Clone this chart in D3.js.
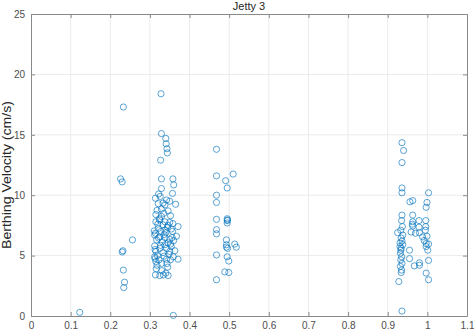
<!DOCTYPE html>
<html>
<head>
<meta charset="utf-8">
<script src="https://cdn.jsdelivr.net/npm/d3@7"></script>
<style>
  html, body { margin: 0; padding: 0; background: #fff; }
  svg { display: block; font-family: "Liberation Sans", Arial, sans-serif; }
</style>
</head>
<body>
<svg id="chart" width="474" height="332"></svg>
<script>
// Berthing velocity observations at Jetty 3
const chartTitle = "Jetty 3";
const yLabel = "Berthing Velocity (cm/s)";
const xTicks = [0, 0.1, 0.2, 0.3, 0.4, 0.5, 0.6, 0.7, 0.8, 0.9, 1, 1.1];
const xTickLabels = ["0", "0.1", "0.2", "0.3", "0.4", "0.5", "0.6", "0.7", "0.8", "0.9", "1", "1.1"];
const yTicks = [0, 5, 10, 15, 20, 25];

// x position of each observation
const obsX = [
  0.123, 0.359, 0.936,
  // around 0.23
  0.233, 0.226, 0.230, 0.256, 0.232, 0.230, 0.233, 0.236, 0.234,
  // around 0.33
  0.328, 0.329, 0.340, 0.341, 0.343, 0.344, 0.327,
  0.329, 0.358, 0.360, 0.329, 0.357, 0.322,
  0.314, 0.326, 0.342, 0.350, 0.321, 0.338, 0.365, 0.333,
  0.329, 0.346, 0.318, 0.335, 0.315, 0.329, 0.352, 0.324,
  0.325, 0.338, 0.350, 0.358, 0.315, 0.333, 0.346, 0.371, 0.321, 0.338, 0.354, 0.328, 0.344,
  0.312, 0.325, 0.338, 0.356, 0.367, 0.317, 0.331, 0.346, 0.360, 0.314, 0.322, 0.340, 0.350,
  0.312, 0.325, 0.342, 0.354, 0.315, 0.333, 0.350, 0.363, 0.313, 0.319, 0.338, 0.348,
  0.312, 0.323, 0.342, 0.352, 0.371, 0.315, 0.329, 0.343, 0.313, 0.336, 0.359,
  0.316, 0.330, 0.314, 0.325, 0.334, 0.346, 0.340,
  0.320, 0.336, 0.352, 0.318, 0.345, 0.327, 0.311, 0.357,
  // around 0.49
  0.468, 0.468, 0.510, 0.491, 0.495, 0.468, 0.468, 0.468,
  0.495, 0.495, 0.495, 0.496, 0.468, 0.468, 0.493,
  0.493, 0.493, 0.496, 0.514, 0.518, 0.468, 0.495, 0.499,
  0.489, 0.499, 0.468,
  // around 0.97
  0.936, 0.940, 0.936, 0.936, 0.936, 1.003, 0.956, 0.963, 0.999, 0.997,
  0.936, 0.963, 0.935, 0.963, 0.979, 0.996, 0.937, 0.963, 0.979, 0.996,
  0.925, 0.938, 0.934, 0.931, 0.959, 0.970, 0.980, 0.988,
  0.992, 0.997, 1.003, 0.997, 1.001,
  0.931, 0.933, 0.932, 0.935, 0.933, 0.936, 0.932, 0.935, 0.934,
  0.955, 0.955, 0.967, 0.980, 0.980, 1.003, 0.997, 1.003, 0.928,
  0.933, 0.938, 0.995, 0.999, 0.962, 0.934, 0.936
];

// measured berthing velocity (cm/s), same order as obsX
const obsV = [
  0.3, 0.05, 0.41,
  17.3, 11.35, 11.1, 6.3, 5.4, 5.3, 3.8, 2.8, 2.35,
  18.4, 15.1, 14.7, 14.25, 13.85, 13.5, 12.9,
  11.35, 11.35, 10.85, 10.55, 10.15, 10.1,
  9.75, 9.9, 9.6, 9.5, 9.3, 9.2, 9.25, 9.35,
  8.85, 8.7, 8.75, 8.5, 8.4, 8.25, 8.3, 8.05,
  7.95, 7.8, 7.75, 7.65, 7.8, 7.55, 7.5, 7.4, 7.25, 7.1, 7.2, 7.0, 7.35,
  6.7, 6.55, 6.5, 6.5, 6.6, 6.3, 6.15, 6.05, 6.25, 6.85, 6.45, 6.9, 6.35,
  5.8, 5.6, 5.6, 5.75, 5.35, 5.25, 5.35, 5.4, 5.5, 5.0, 5.9, 5.1,
  4.9, 4.65, 4.7, 4.65, 4.7, 4.5, 4.35, 4.35, 4.75, 4.95, 4.9,
  3.9, 3.75, 3.4, 3.35, 3.4, 3.35, 3.55,
  7.6, 6.75, 5.95, 4.2, 4.05, 5.85, 7.05, 7.0,
  13.8, 11.6, 11.75, 11.2, 10.6, 10.0, 9.4, 8.0,
  8.05, 7.9, 7.7, 7.95, 7.15, 6.8, 6.3,
  5.9, 5.7, 5.6, 5.95, 5.7, 5.05, 4.9, 4.55,
  3.65, 3.6, 3.0,
  14.35, 13.7, 12.7, 10.6, 10.2, 10.2, 9.45, 9.55, 9.4, 9.0,
  8.35, 8.35, 7.9, 7.8, 7.9, 7.9, 7.4, 7.45, 7.35, 7.4,
  6.9, 6.7, 6.45, 6.05, 6.95, 6.85, 6.9, 6.55,
  6.25, 6.0, 5.95, 5.75, 5.45,
  5.75, 5.45, 5.2, 4.9, 4.65, 4.35, 4.1, 3.8, 3.6,
  5.45, 4.75, 4.15, 4.4, 4.2, 4.6, 3.55, 3.0, 2.85,
  7.1, 5.9, 7.1, 6.6, 7.6, 5.6, 6.2
];

const points = obsX.map((x, i) => ({ x, v: obsV[i] }));

const svg = d3.select("#chart");
const margin = { left: 31, right: 7, top: 14, bottom: 16 };
const W = 474, H = 332;

const x = d3.scaleLinear().domain([0, 1.1]).range([margin.left, W - margin.right]);
const y = d3.scaleLinear().domain([0, 25]).range([H - margin.bottom, margin.top]);

const axisColor = "#8a8a8a";
const textColor = "#4d4d4d";

// grid
const grid = svg.append("g");
grid.selectAll("line.gx").data(xTicks.slice(1, -1)).join("line")
  .attr("x1", d => x(d)).attr("x2", d => x(d))
  .attr("y1", y(0)).attr("y2", y(25))
  .attr("stroke", "#ebebeb").attr("stroke-width", 1);
grid.selectAll("line.gy").data(yTicks.slice(1, -1)).join("line")
  .attr("x1", x(0)).attr("x2", x(1.1))
  .attr("y1", d => y(d)).attr("y2", d => y(d))
  .attr("stroke", "#ebebeb").attr("stroke-width", 1);

// markers
svg.append("g").selectAll("circle").data(points).join("circle")
  .attr("cx", d => x(d.x)).attr("cy", d => y(d.v))
  .attr("r", 3.1)
  .attr("fill", "none")
  .attr("stroke", "#0072BD")
  .attr("stroke-opacity", 0.85)
  .attr("stroke-width", 0.75);

// axes (ticks pointing inward, box on)
function styleAxis(g) {
  g.select(".domain").attr("stroke", axisColor);
  g.selectAll(".tick line").attr("stroke", axisColor);
  g.selectAll(".tick text").attr("fill", textColor).style("font-size", "10px")
    .style("font-family", "'Liberation Sans', Arial, sans-serif");
}

const xAxis = d3.axisBottom(x).tickValues(xTicks)
  .tickFormat((d, i) => xTickLabels[i]).tickSizeInner(-4).tickSizeOuter(0).tickPadding(6);
svg.append("g").attr("transform", `translate(0,${y(0)})`).call(xAxis).call(styleAxis);

const xAxisTop = d3.axisTop(x).tickValues(xTicks).tickFormat("").tickSizeInner(-4).tickSizeOuter(0);
svg.append("g").attr("transform", `translate(0,${y(25)})`).call(xAxisTop).call(styleAxis);

const yAxis = d3.axisLeft(y).tickValues(yTicks).tickFormat(d3.format("d"))
  .tickSizeInner(-4).tickSizeOuter(0).tickPadding(6);
svg.append("g").attr("transform", `translate(${x(0)},0)`).call(yAxis).call(styleAxis);

const yAxisRight = d3.axisRight(y).tickValues(yTicks).tickFormat("").tickSizeInner(-4).tickSizeOuter(0);
svg.append("g").attr("transform", `translate(${x(1.1)},0)`).call(yAxisRight).call(styleAxis);

// title
svg.append("text")
  .attr("x", (x(0) + x(1.1)) / 2).attr("y", 10)
  .attr("text-anchor", "middle")
  .attr("fill", "#262626")
  .style("font-size", "11px")
  .text(chartTitle);

// y label
svg.append("text")
  .attr("transform", `translate(11,${(y(0) + y(25)) / 2 + 10}) rotate(-90)`)
  .attr("text-anchor", "middle")
  .attr("fill", "#262626")
  .style("font-size", "12px")
  .attr("textLength", 148)
  .attr("lengthAdjust", "spacingAndGlyphs")
  .text(yLabel);
</script>
</body>
</html>
